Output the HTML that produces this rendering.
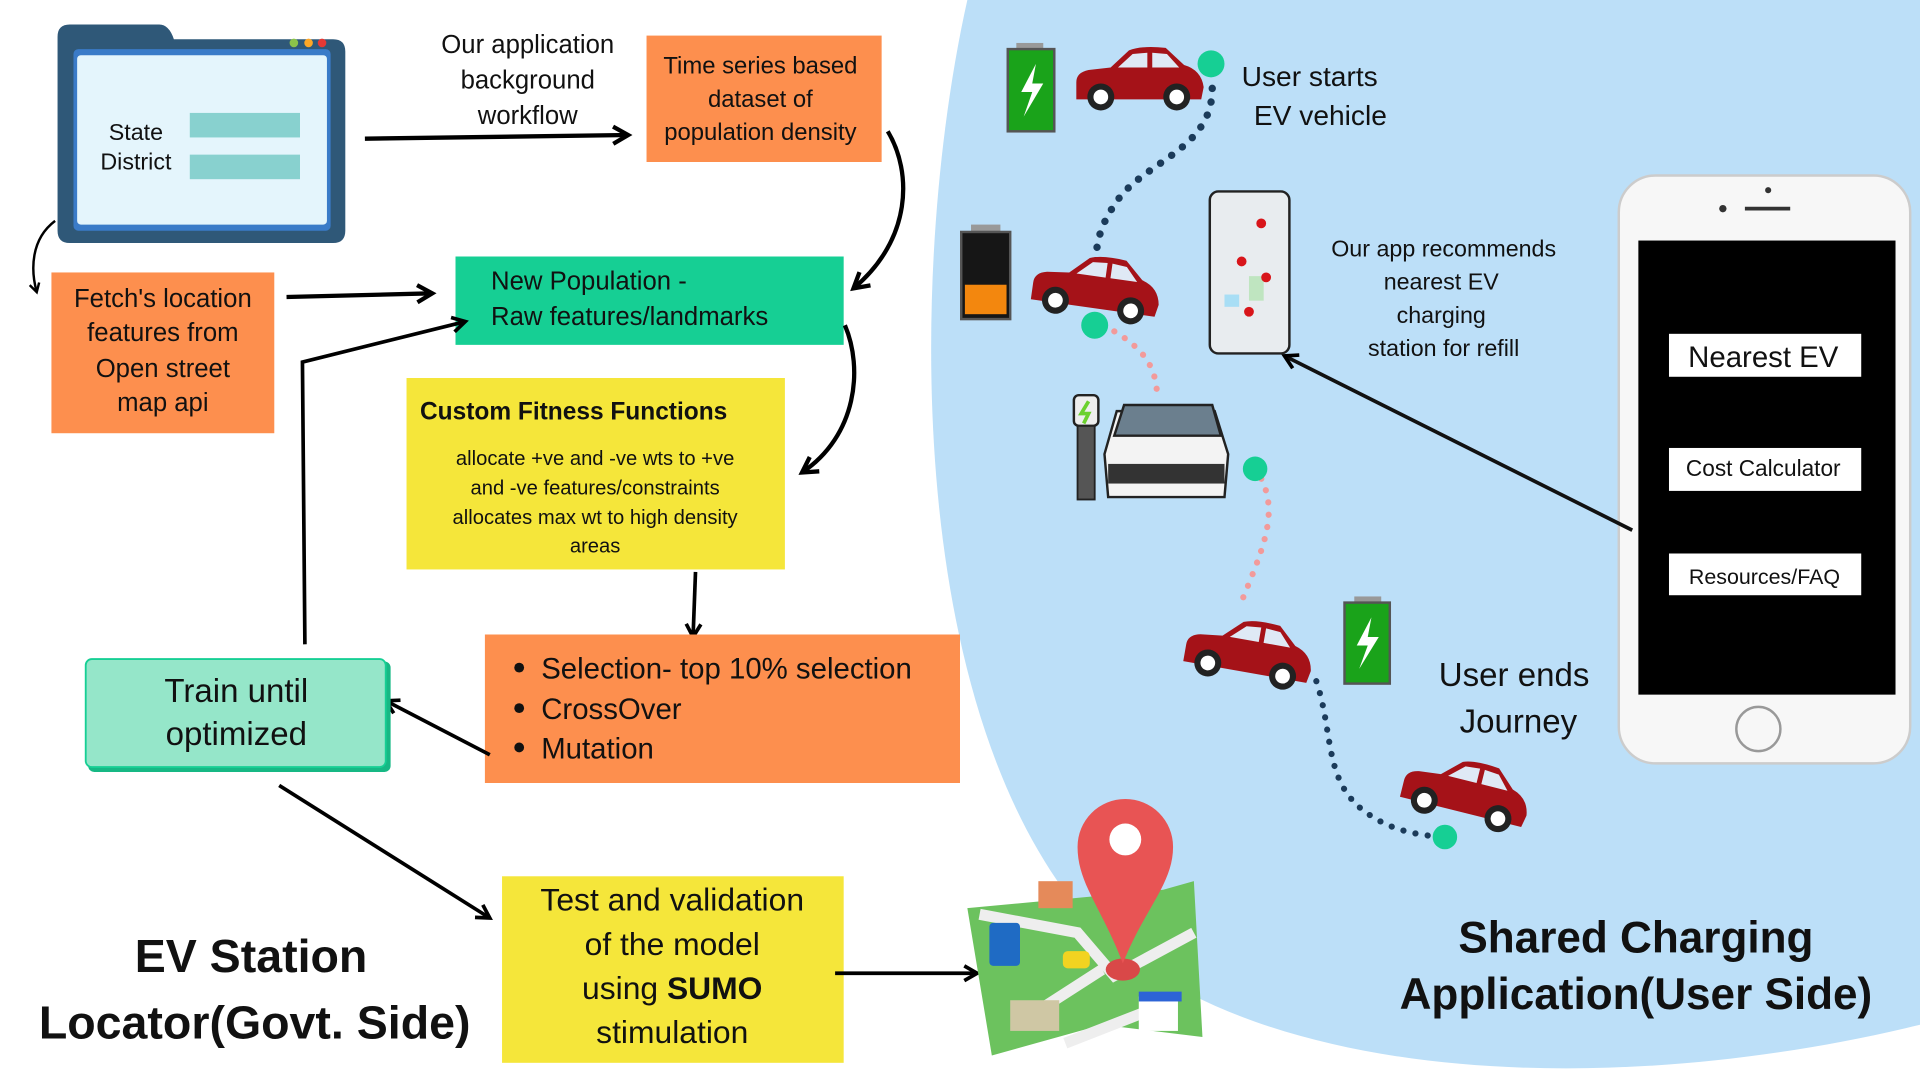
<!DOCTYPE html>
<html><head><meta charset="utf-8"><style>
html,body{margin:0;padding:0;background:#fff;width:1920px;height:1080px;overflow:hidden}
svg{display:block}
text{font-family:"Liberation Sans",sans-serif;fill:#111}
</style></head><body>
<svg width="1920" height="1080" viewBox="0 0 1568 880" preserveAspectRatio="none" xmlns="http://www.w3.org/2000/svg">
<defs>
<marker id="ah" viewBox="0 0 10 10" refX="8" refY="5" markerWidth="5" markerHeight="5" orient="auto"><path d="M1,1 L8,5 L1,9" fill="none" stroke="#000" stroke-width="2"/></marker>
<g id="car">
<path d="M2,30 Q2,22 12,20 L30,18 L45,4 Q55,0 75,2 L90,16 Q104,20 106,34 L104,44 L2,44 Z" fill="#a51218"/>
<path d="M36,18 L48,7 L60,6 L60,18 Z M64,6 L76,7 L86,18 L64,18 Z" fill="#dfe9f5"/>
<circle cx="22" cy="42" r="11" fill="#222"/><circle cx="22" cy="42" r="6" fill="#fff"/>
<circle cx="84" cy="42" r="11" fill="#222"/><circle cx="84" cy="42" r="6" fill="#fff"/>
</g>
</defs>
<!-- blue region -->
<path d="M790,0 C745,200 735,560 880,740 C1000,880 1300,900 1568,835 L1568,0 Z" fill="#bcdff8"/>

<!-- browser window -->
<path d="M47,30 Q47,20 57,20 L130,20 Q138,20 142,32 L272,32 Q282,32 282,42 L282,188 Q282,198 272,198 L57,198 Q47,198 47,188 Z" fill="#2f5878"/>
<rect x="60" y="40" width="210" height="148" rx="4" fill="#3a7bc8"/>
<rect x="63" y="45" width="204" height="138" rx="3" fill="#e4f5fc"/>
<circle cx="240" cy="35" r="3.5" fill="#8bc34a"/><circle cx="252" cy="35" r="3.5" fill="#ffa726"/><circle cx="263" cy="35" r="3.5" fill="#e53935"/>
<text x="111" y="114" font-size="19" text-anchor="middle">State</text>
<text x="111" y="138" font-size="19" text-anchor="middle">District</text>
<rect x="155" y="92" width="90" height="20" fill="#88d1cf"/>
<rect x="155" y="126" width="90" height="20" fill="#88d1cf"/>

<text font-size="21" text-anchor="middle"><tspan x="431" y="43">Our application</tspan><tspan x="431" y="72">background</tspan><tspan x="431" y="101">workflow</tspan></text>
<path d="M298,113 L513,110" stroke="#000" stroke-width="3.5" fill="none" marker-end="url(#ah)"/>

<rect x="528" y="29" width="192" height="103" fill="#fd8f4e"/>
<text font-size="19.5" text-anchor="middle"><tspan x="621" y="60">Time series based</tspan><tspan x="621" y="87">dataset of</tspan><tspan x="621" y="114">population density</tspan></text>
<path d="M725,107 C745,140 745,195 697,235" stroke="#000" stroke-width="3.5" fill="none" marker-end="url(#ah)"/>

<path d="M45,180 C25,195 25,220 30,238" stroke="#000" stroke-width="2" fill="none" marker-end="url(#ah)"/>
<rect x="42" y="222" width="182" height="131" fill="#fd8f4e"/>
<text font-size="21" text-anchor="middle"><tspan x="133" y="250">Fetch's location</tspan><tspan x="133" y="278">features from</tspan><tspan x="133" y="307">Open street</tspan><tspan x="133" y="335">map api</tspan></text>
<path d="M234,242 L353,239" stroke="#000" stroke-width="3.5" fill="none" marker-end="url(#ah)"/>

<rect x="372" y="209" width="317" height="72" fill="#16cf94"/>
<text font-size="21"><tspan x="401" y="236">New Population -</tspan><tspan x="401" y="265">Raw features/landmarks</tspan></text>
<path d="M690,265 C705,300 700,355 655,385" stroke="#000" stroke-width="3.5" fill="none" marker-end="url(#ah)"/>

<rect x="332" y="308" width="309" height="156" fill="#f5e63a"/>
<text x="343" y="342" font-size="20" font-weight="bold">Custom Fitness Functions</text>
<text font-size="16.5" text-anchor="middle"><tspan x="486" y="379">allocate +ve and -ve wts to +ve</tspan><tspan x="486" y="403">and -ve features/constraints</tspan><tspan x="486" y="427">allocates max wt to high density</tspan><tspan x="486" y="450">areas</tspan></text>
<path d="M568,466 L566,519" stroke="#000" stroke-width="3" fill="none" marker-end="url(#ah)"/>

<rect x="396" y="517" width="388" height="121" fill="#fd8f4e"/>
<g font-size="24"><circle cx="424" cy="544" r="4" fill="#111"/><text x="442" y="553">Selection- top 10% selection</text>
<circle cx="424" cy="577" r="4" fill="#111"/><text x="442" y="586">CrossOver</text>
<circle cx="424" cy="609" r="4" fill="#111"/><text x="442" y="618">Mutation</text></g>
<path d="M400,615 L315,571" stroke="#000" stroke-width="3" fill="none" marker-end="url(#ah)"/>

<rect x="72" y="539" width="247" height="90" rx="5" fill="#16b884"/>
<rect x="70" y="537" width="245" height="88" rx="5" fill="#95e6c9" stroke="#16cf94" stroke-width="1.5"/>
<text font-size="27" text-anchor="middle"><tspan x="193" y="572">Train until</tspan><tspan x="193" y="607">optimized</tspan></text>
<path d="M249,525 L247,295 L380,262" stroke="#000" stroke-width="3" fill="none" marker-end="url(#ah)"/>
<path d="M228,640 L400,748" stroke="#000" stroke-width="3" fill="none" marker-end="url(#ah)"/>

<rect x="410" y="714" width="279" height="152" fill="#f5e63a"/>
<text font-size="26" text-anchor="middle"><tspan x="549" y="742">Test and validation</tspan><tspan x="549" y="778">of the model</tspan><tspan x="549" y="814">using <tspan font-weight="bold">SUMO</tspan></tspan><tspan x="549" y="850">stimulation</tspan></text>
<path d="M682,793 L798,793" stroke="#000" stroke-width="3" fill="none" marker-end="url(#ah)"/>

<!-- map -->
<path d="M790,740 L950,725 L975,718 L982,845 L900,835 L810,860 Z" fill="#6cc25e"/>
<path d="M800,745 L880,760 L910,795 L975,760 M830,835 L900,790 M870,850 L960,815" stroke="#eee" stroke-width="9" fill="none"/>
<rect x="808" y="752" width="25" height="35" rx="3" fill="#1f6bc4"/>
<rect x="868" y="775" width="22" height="14" rx="4" fill="#f2d321"/>
<rect x="825" y="815" width="40" height="25" fill="#cfc7a4"/>
<rect x="930" y="812" width="32" height="28" fill="#fff"/><rect x="930" y="808" width="35" height="8" fill="#2d64d6"/>
<rect x="848" y="718" width="28" height="22" fill="#e58a5a"/>
<ellipse cx="917" cy="790" rx="14" ry="9" fill="#d94848"/>
<path d="M917,785 C900,740 880,720 880,690 A38,38 0 0 1 958,690 C958,720 935,740 917,785 Z" fill="#e85454"/>
<circle cx="919" cy="684" r="13" fill="#fff"/>

<text font-size="38" font-weight="bold" text-anchor="middle"><tspan x="205" y="792">EV Station</tspan><tspan x="208" y="846">Locator(Govt. Side)</tspan></text>
<text font-size="36" font-weight="bold" text-anchor="middle"><tspan x="1336" y="776">Shared Charging</tspan><tspan x="1336" y="822">Application(User Side)</tspan></text>

<!-- phone -->
<rect x="1322" y="143" width="238" height="479" rx="30" fill="#f7f7f7" stroke="#ccc" stroke-width="2"/>
<rect x="1338" y="196" width="210" height="370" fill="#000"/>
<line x1="1425" y1="170" x2="1462" y2="170" stroke="#333" stroke-width="3"/>
<circle cx="1407" cy="170" r="3" fill="#333"/><circle cx="1444" cy="155" r="2.5" fill="#333"/>
<circle cx="1436" cy="594" r="18" fill="none" stroke="#999" stroke-width="2"/>
<rect x="1363" y="272" width="157" height="35" fill="#fff"/><text x="1440" y="299" font-size="24" text-anchor="middle">Nearest EV</text>
<rect x="1363" y="365" width="157" height="35" fill="#fff"/><text x="1440" y="388" font-size="18.5" text-anchor="middle">Cost Calculator</text>
<rect x="1363" y="451" width="157" height="34" fill="#fff"/><text x="1441" y="476" font-size="17.5" text-anchor="middle">Resources/FAQ</text>
<path d="M1333,432 L1049,290" stroke="#111" stroke-width="3" fill="none" marker-end="url(#ah)"/>

<text font-size="23"><tspan x="1014" y="70">User starts</tspan><tspan x="1024" y="102">EV vehicle</tspan></text>
<text font-size="19" text-anchor="middle"><tspan x="1179" y="209">Our app recommends</tspan><tspan x="1177" y="236">nearest EV</tspan><tspan x="1177" y="263">charging</tspan><tspan x="1179" y="290">station for refill</tspan></text>
<text font-size="27"><tspan x="1175" y="559">User ends</tspan><tspan x="1192" y="597">Journey</tspan></text>

<!-- dotted paths -->
<path d="M990,72 C990,120 940,130 915,160 C900,180 895,195 895,215" stroke="#1b3b5a" stroke-width="6" stroke-linecap="round" stroke-dasharray="0.1 11" fill="none"/>
<path d="M910,270 C935,285 945,300 945,325" stroke="#f29a9a" stroke-width="5" stroke-linecap="round" stroke-dasharray="0.1 10" fill="none"/>
<path d="M1030,390 C1045,420 1030,450 1012,495" stroke="#f29a9a" stroke-width="5" stroke-linecap="round" stroke-dasharray="0.1 10" fill="none"/>
<path d="M1075,555 C1090,600 1080,640 1120,665 C1140,678 1160,680 1175,682" stroke="#1b3b5a" stroke-width="5" stroke-linecap="round" stroke-dasharray="0.1 10" fill="none"/>
<circle cx="989" cy="52" r="11" fill="#16cf94"/><circle cx="894" cy="265" r="11" fill="#16cf94"/><circle cx="1025" cy="382" r="10" fill="#16cf94"/><circle cx="1180" cy="682" r="10" fill="#16cf94"/>

<!-- cars -->
<use href="#car" transform="translate(877,37)"/>
<use href="#car" transform="translate(846,200) rotate(8)"/>
<use href="#car" transform="translate(972,495) rotate(10)"/>
<use href="#car" transform="translate(1152,606) rotate(14)"/>
<!-- charging car -->
<rect x="877" y="322" width="20" height="25" rx="4" fill="#eee" stroke="#222" stroke-width="2"/>
<path d="M889,327 L883,337 L889,337 L885,345" stroke="#6bd12e" stroke-width="3" fill="none"/>
<rect x="880" y="347" width="14" height="60" fill="#555" stroke="#222" stroke-width="1.5"/>
<path d="M912,335 L992,335 L1003,370 L1000,405 L905,405 L902,370 Z" fill="#f3f3f3" stroke="#222" stroke-width="2"/>
<path d="M918,330 L990,330 L997,355 L910,355 Z" fill="#6b7f8e" stroke="#222" stroke-width="2"/>
<rect x="905" y="378" width="95" height="16" fill="#333"/>
<!-- batteries -->
<rect x="830" y="35" width="22" height="5" fill="#999"/><rect x="823" y="40" width="38" height="67" fill="#1aa31a" stroke="#555" stroke-width="2"/>
<path d="M846,52 L834,75 L843,75 L836,95 L852,68 L843,68 Z" fill="#fff"/>
<rect x="793" y="183" width="24" height="6" fill="#999"/><rect x="785" y="189" width="40" height="71" fill="#161616" stroke="#555" stroke-width="2"/>
<rect x="788" y="232" width="34" height="24" fill="#f3870e"/>
<rect x="1106" y="486" width="22" height="5" fill="#999"/><rect x="1098" y="491" width="37" height="66" fill="#1aa31a" stroke="#555" stroke-width="2"/>
<path d="M1120,503 L1108,526 L1117,526 L1110,545 L1126,519 L1117,519 Z" fill="#fff"/>
<!-- phone map icon -->
<rect x="988" y="156" width="65" height="132" rx="7" fill="#e8ecef" stroke="#222" stroke-width="2"/>
<rect x="1000" y="240" width="12" height="10" fill="#a8def5"/><rect x="1020" y="225" width="12" height="20" fill="#bfe5c0"/>
<circle cx="1030" cy="182" r="4" fill="#d8151a"/><circle cx="1014" cy="213" r="4" fill="#d8151a"/><circle cx="1034" cy="226" r="4" fill="#d8151a"/><circle cx="1020" cy="254" r="4" fill="#d8151a"/>
</svg>
</body></html>
